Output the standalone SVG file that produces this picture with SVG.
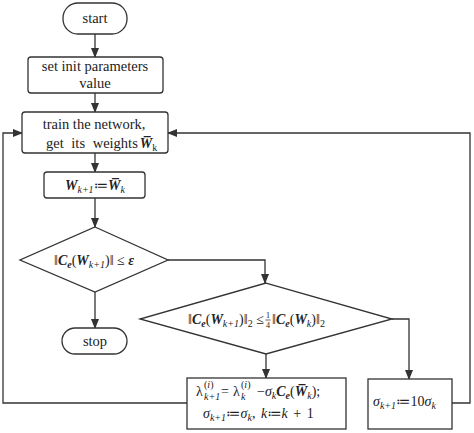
<svg xmlns="http://www.w3.org/2000/svg" width="474" height="433" viewBox="0 0 474 433">
<defs>
<marker id="ah" markerWidth="10" markerHeight="8" refX="9" refY="4" orient="auto" markerUnits="userSpaceOnUse">
<path d="M0,0 L10,4 L0,8 Z" fill="#333"/>
</marker>
<style>
.box{fill:#fff;stroke:#333;stroke-width:1.3}
.ln{fill:none;stroke:#333;stroke-width:1.3}
text{font-family:"Liberation Serif","Times New Roman",Times,"DejaVu Serif",serif;fill:#222}
.t{font-size:14.5px}
.m{font-size:14px;font-style:italic}
.n{font-style:normal}
.b{font-weight:bold}
.s{font-size:10px}
.f{font-size:8px;font-style:normal}
</style>
</defs>
<rect width="474" height="433" fill="#fff"/>
<g id="connectors">
<line class="ln" x1="95" y1="34" x2="95" y2="57" marker-end="url(#ah)"/>
<line class="ln" x1="95" y1="93" x2="95" y2="112" marker-end="url(#ah)"/>
<line class="ln" x1="95" y1="153" x2="95" y2="172" marker-end="url(#ah)"/>
<line class="ln" x1="95" y1="198" x2="95" y2="227" marker-end="url(#ah)"/>
<line class="ln" x1="95" y1="292" x2="95" y2="328" marker-end="url(#ah)"/>
<polyline class="ln" points="168,260 265,260 265,283" marker-end="url(#ah)"/>
<line class="ln" x1="266" y1="354" x2="266" y2="378" marker-end="url(#ah)"/>
<polyline class="ln" points="392,319 409,319 409,379" marker-end="url(#ah)"/>
<polyline class="ln" points="187,403 3,403 3,133 22,133" marker-end="url(#ah)"/>
<polyline class="ln" points="452,403 470,403 470,133 168,133" marker-end="url(#ah)"/>
</g>
<g id="start">
<rect class="box" x="63" y="3" width="64" height="31" rx="15"/>
<text class="t" x="95" y="23" text-anchor="middle">start</text>
</g>
<g id="init">
<rect class="box" x="28" y="57" width="135" height="36" rx="3"/>
<text class="t" x="95" y="71" text-anchor="middle">set init parameters</text>
<text class="t" x="95" y="88" text-anchor="middle">value</text>
</g>
<g id="train">
<rect class="box" x="22" y="112" width="146" height="41" rx="3"/>
<text class="t" x="94" y="129" text-anchor="middle">train the network,</text>
<text class="t" x="46" y="148" word-spacing="4">get its weights<tspan class="m b" dx="2">W&#773;</tspan><tspan class="m s n" dy="3">k</tspan></text>
</g>
<g id="update">
<rect class="box" x="44" y="172" width="101" height="26" rx="3"/>
<text class="m" x="95" y="190" text-anchor="middle"><tspan class="b">W</tspan><tspan class="s" dy="3">k+1</tspan><tspan class="n" dy="-3">≔</tspan><tspan class="b">W&#773;</tspan><tspan class="s" dy="3">k</tspan></text>
</g>
<g id="check1">
<polygon class="box" points="95,227 168,260 95,292 20,260"/>
<text class="m" x="94" y="265" text-anchor="middle"><tspan class="n">‖</tspan><tspan class="b">C</tspan><tspan class="b s" dy="3">e</tspan><tspan class="n" dy="-3">(</tspan><tspan class="b">W</tspan><tspan class="s" dy="3">k+1</tspan><tspan class="n" dy="-3">)‖ ≤ </tspan><tspan class="b">ε</tspan></text>
</g>
<g id="check2">
<polygon class="box" points="266,283 392,319 266,354 140,319"/>
<text class="m" x="188" y="324"><tspan class="n">‖</tspan><tspan class="b">C</tspan><tspan class="b s" dy="3">e</tspan><tspan class="n" dy="-3">(</tspan><tspan class="b">W</tspan><tspan class="s" dy="3">k+1</tspan><tspan class="n" dy="-3">)‖</tspan><tspan class="s n" dy="3">2</tspan><tspan class="n" dy="-3"> ≤</tspan></text>
<text class="f" x="268" y="318" text-anchor="middle">1</text>
<line x1="265.5" y1="320" x2="270.5" y2="320" stroke="#222" stroke-width="0.7"/>
<text class="f" x="268" y="328" text-anchor="middle">4</text>
<text class="m" x="272" y="324"><tspan class="n">‖</tspan><tspan class="b">C</tspan><tspan class="b s" dy="3">e</tspan><tspan class="n" dy="-3">(</tspan><tspan class="b">W</tspan><tspan class="s" dy="3">k</tspan><tspan class="n" dy="-3">)‖</tspan><tspan class="s n" dy="3">2</tspan></text>
</g>
<g id="stop">
<rect class="box" x="62" y="328" width="65" height="26" rx="13"/>
<text class="t" x="95" y="346" text-anchor="middle">stop</text>
</g>
<g id="multiplier">
<rect class="box" x="187" y="378" width="159" height="51"/>
<text class="m n" x="196" y="396">λ</text>
<text class="m s n" x="204" y="388">(<tspan class="m s">i</tspan>)</text>
<text class="m s" x="204" y="400">k+1</text>
<text class="m n" x="221" y="396">=</text>
<text class="m n" x="233" y="396">λ</text>
<text class="m s n" x="241" y="388">(<tspan class="m s">i</tspan>)</text>
<text class="m s" x="241" y="400">k</text>
<text class="m" x="257" y="396"><tspan class="n">−</tspan>σ<tspan class="s" dy="3">k</tspan><tspan class="b" dy="-3">C</tspan><tspan class="b s" dy="3">e</tspan><tspan class="n" dy="-3">(</tspan><tspan class="b">W&#773;</tspan><tspan class="s" dy="3">k</tspan><tspan class="n" dy="-3">);</tspan></text>
<text class="m" x="203" y="418" word-spacing="2">σ<tspan class="s" dy="3">k+1</tspan><tspan class="n" dy="-3">≔</tspan>σ<tspan class="s" dy="3">k</tspan><tspan class="n" dy="-3">,  </tspan>k<tspan class="n">≔</tspan>k<tspan class="n"> + 1</tspan></text>
</g>
<g id="penalty">
<rect class="box" x="368" y="379" width="84" height="50"/>
<text class="m" x="373" y="406">σ<tspan class="s" dy="3">k+1</tspan><tspan class="n" dy="-3">≔10</tspan>σ<tspan class="s" dy="3">k</tspan></text>
</g>
</svg>
